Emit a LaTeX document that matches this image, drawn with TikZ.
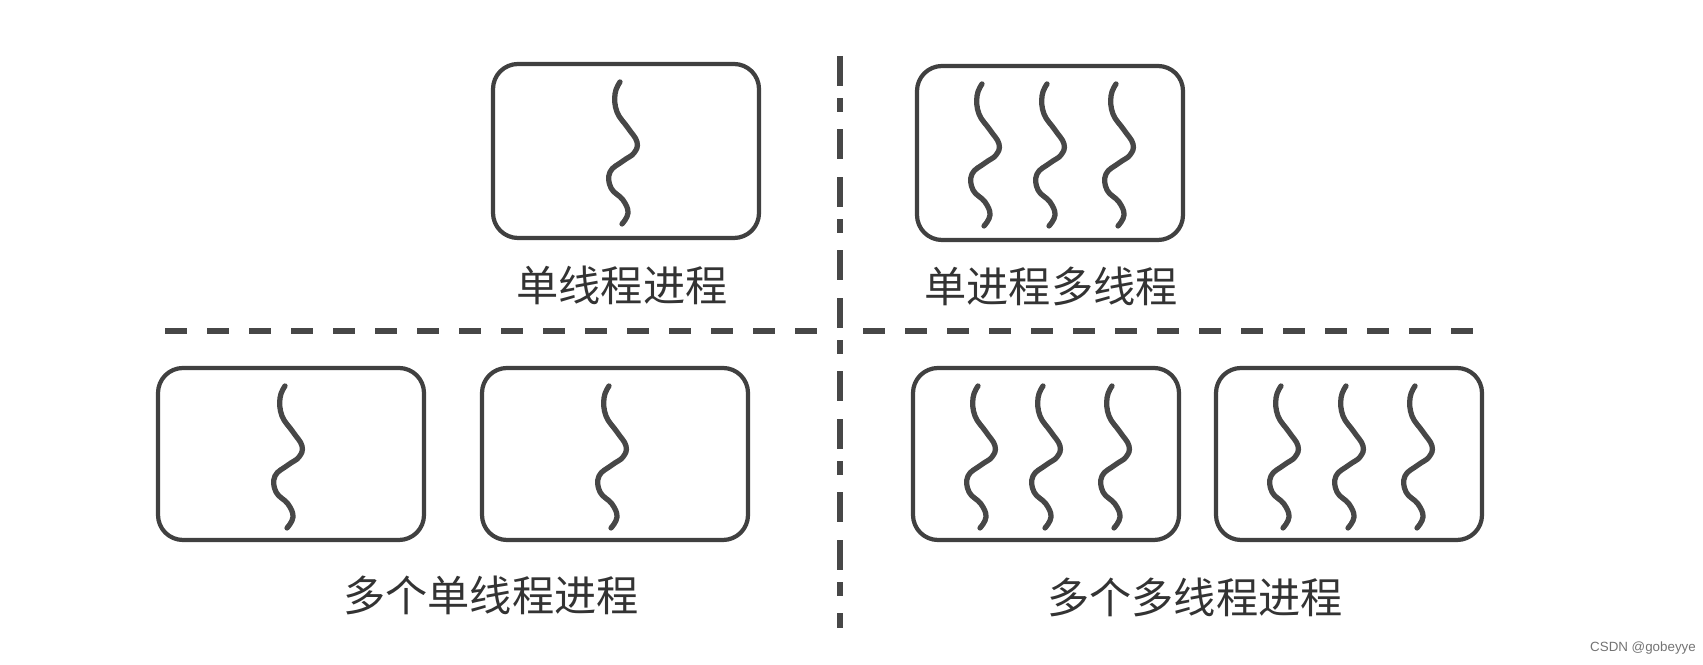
\documentclass[tikz,border=0pt]{standalone}
\usepackage{fontspec}
\newfontfamily\cjk{Noto Sans CJK SC}
\newfontfamily\wmfont{Liberation Sans}

\tikzset{
  procbox/.style={draw=black!75, line width=1.2pt, rounded corners=0.25cm},
  threadline/.style={draw=black!72, line width=1.5pt, line cap=round},
  hsep/.style={draw=black!72, line width=1.6pt, dash pattern=on 0.22cm off 0.20cm},
  vsep/.style={draw=black!72, line width=1.6pt,
    dash pattern=on 0.30cm off 0.12cm on 0.14cm off 0.17cm on 0.30cm off 0.18cm},
  caption/.style={font=\cjk\fontsize{12}{14}\selectfont, text=black!80, inner sep=0pt},
  pics/thread/.style={code={
    \draw[threadline] plot[smooth, tension=0.7] coordinates
      {(0,0) (-5,12) (-3,30) (8,46) (17,60) (14,71) (3,79) (-10,90) (-9,106) (3,118) (8,131) (2,142)};
  }}
}

\begin{document}
\begin{tikzpicture}[x=0.01cm, y=-0.01cm]
  \useasboundingbox (0,0) rectangle (1703,665);

  % separators
  \draw[hsep] (165,331) -- (836,331);
  \draw[hsep] (863,331) -- (1493,331);
  \draw[vsep] (840,56) -- (840,628);

  % single thread process
  \begin{scope}[shift={(626,0)}]
    \draw[procbox] (-133,64) rectangle (133,238);
    \pic at (-6,82) {thread};
  \end{scope}
  \node[caption] (single) at (622,285) {单线程进程};

  % one process, many threads
  \begin{scope}[shift={(1050,0)}]
    \draw[procbox] (-133,66) rectangle (133,240);
    \foreach \dx in {-68,-3,66}
      \pic at (\dx,84) {thread};
  \end{scope}
  \node[caption] (multi) at (1051,286) {单进程多线程};

  % several single thread processes
  \foreach \cx in {291,615} {
    \begin{scope}[shift={(\cx,0)}]
      \draw[procbox] (-133,368) rectangle (133,540);
      \pic at (-6,386) {thread};
    \end{scope}
  }
  \node[caption] (singles) at (491,595) {多个单线程进程};

  % several multi thread processes
  \foreach \cx in {1046,1349} {
    \begin{scope}[shift={(\cx,0)}]
      \draw[procbox] (-133,368) rectangle (133,540);
      \foreach \dx in {-68,-3,66}
        \pic at (\dx,386) {thread};
    \end{scope}
  }
  \node[caption] (multis) at (1195,597) {多个多线程进程};

  % watermark
  \node[font=\wmfont\fontsize{3.8}{4.5}\selectfont, text=black!55, inner sep=0pt] (wm) at (1643,648) {CSDN @gobeyye};
\end{tikzpicture}
\end{document}
